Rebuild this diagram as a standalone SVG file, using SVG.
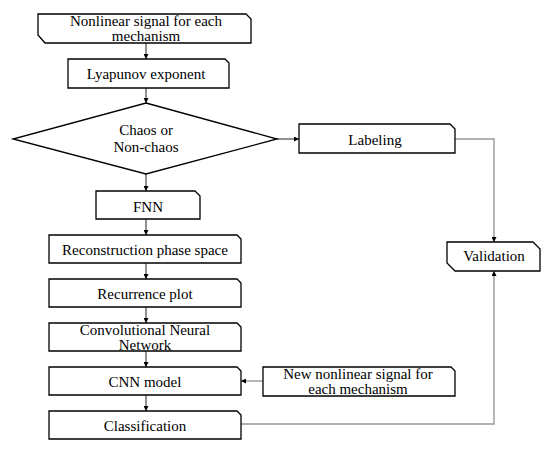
<svg xmlns="http://www.w3.org/2000/svg" width="550" height="449" viewBox="0 0 550 449">
<style>
.box{fill:#fff;stroke:#000;stroke-width:1.3}
.t{font-family:'Liberation Serif','Times New Roman',serif;font-size:15px;fill:#000;text-anchor:middle}
.c{fill:none;stroke:#222;stroke-width:1}
.g{fill:none;stroke:#999;stroke-width:1.4}
</style>
<defs>
<marker id="ah" viewBox="0 0 10 10" refX="10" refY="5" markerWidth="5" markerHeight="5" orient="auto" markerUnits="userSpaceOnUse">
<path d="M0,0 L10,5 L0,10 z" fill="#000"/>
</marker>
</defs>
<rect width="550" height="449" fill="#fff"/>
<g id="connectors">
<path class="c" d="M146,43 V59" marker-end="url(#ah)"/>
<path class="c" d="M146,88 V103" marker-end="url(#ah)"/>
<path class="c" d="M146,174 V191" marker-end="url(#ah)"/>
<path class="c" d="M146,219 V235" marker-end="url(#ah)"/>
<path class="c" d="M146,263 V279" marker-end="url(#ah)"/>
<path class="c" d="M146,307 V323" marker-end="url(#ah)"/>
<path class="c" d="M146,351 V367" marker-end="url(#ah)"/>
<path class="c" d="M146,395 V411" marker-end="url(#ah)"/>
<path class="c" d="M277,139 H299" marker-end="url(#ah)"/>
<path class="g" d="M455,139 H494 V242" marker-end="url(#ah)"/>
<path class="g" d="M241,424 H494 V271" marker-end="url(#ah)"/>
<path class="g" d="M263,381 H241" marker-end="url(#ah)"/>
</g>
<g id="n-input">
<path class="box" d="M38,14 H246 L251,19 V43 H45 L38,35 Z"/>
<text class="t" x="146" y="26" font-family="Liberation Serif, serif">Nonlinear signal for each</text>
<text class="t" x="146" y="41">mechanism</text>
</g>
<g id="n-lyapunov">
<path class="box" d="M68,59 H225 L229,63 V88 H68 Z"/>
<text class="t" x="146" y="79">Lyapunov exponent</text>
</g>
<g id="n-chaos">
<path class="box" d="M146,103 L277,139 L146,174 L13,139 Z"/>
<text class="t" x="146" y="135">Chaos or</text>
<text class="t" x="146" y="151.5">Non-chaos</text>
</g>
<g id="n-labeling">
<path class="box" d="M299,124 H450 L455,129 V153 H299 Z"/>
<text class="t" x="375" y="145">Labeling</text>
</g>
<g id="n-validation">
<path class="box" d="M447,242 H533 L540,249 V271 H455 L447,263 Z"/>
<text class="t" x="494" y="261">Validation</text>
</g>
<g id="n-fnn">
<path class="box" d="M96,191 H195 L200,196 V219 H96 Z"/>
<text class="t" x="148" y="211.5">FNN</text>
</g>
<g id="n-recon">
<path class="box" d="M49,235 H237 L241,239 V263 H49 Z"/>
<text class="t" x="145" y="255">Reconstruction phase space</text>
</g>
<g id="n-recurrence">
<path class="box" d="M49,279 H237 L241,283 V307 H49 Z"/>
<text class="t" x="145" y="299">Recurrence plot</text>
</g>
<g id="n-cnn">
<path class="box" d="M49,323 H237 L241,327 V351 H49 Z"/>
<text class="t" x="145" y="334.5">Convolutional Neural</text>
<text class="t" x="145" y="350">Network</text>
</g>
<g id="n-cnnmodel">
<path class="box" d="M49,367 H237 L241,371 V395 H49 Z"/>
<text class="t" x="145" y="386.5">CNN model</text>
</g>
<g id="n-classification">
<path class="box" d="M49,411 H237 L241,415 V439 H49 Z"/>
<text class="t" x="145" y="430.5">Classification</text>
</g>
<g id="n-newsignal">
<path class="box" d="M263,367 H451 L455,371 V396 H263 Z"/>
<text class="t" x="358" y="379">New nonlinear signal for</text>
<text class="t" x="358" y="393.5">each mechanism</text>
</g>
</svg>
